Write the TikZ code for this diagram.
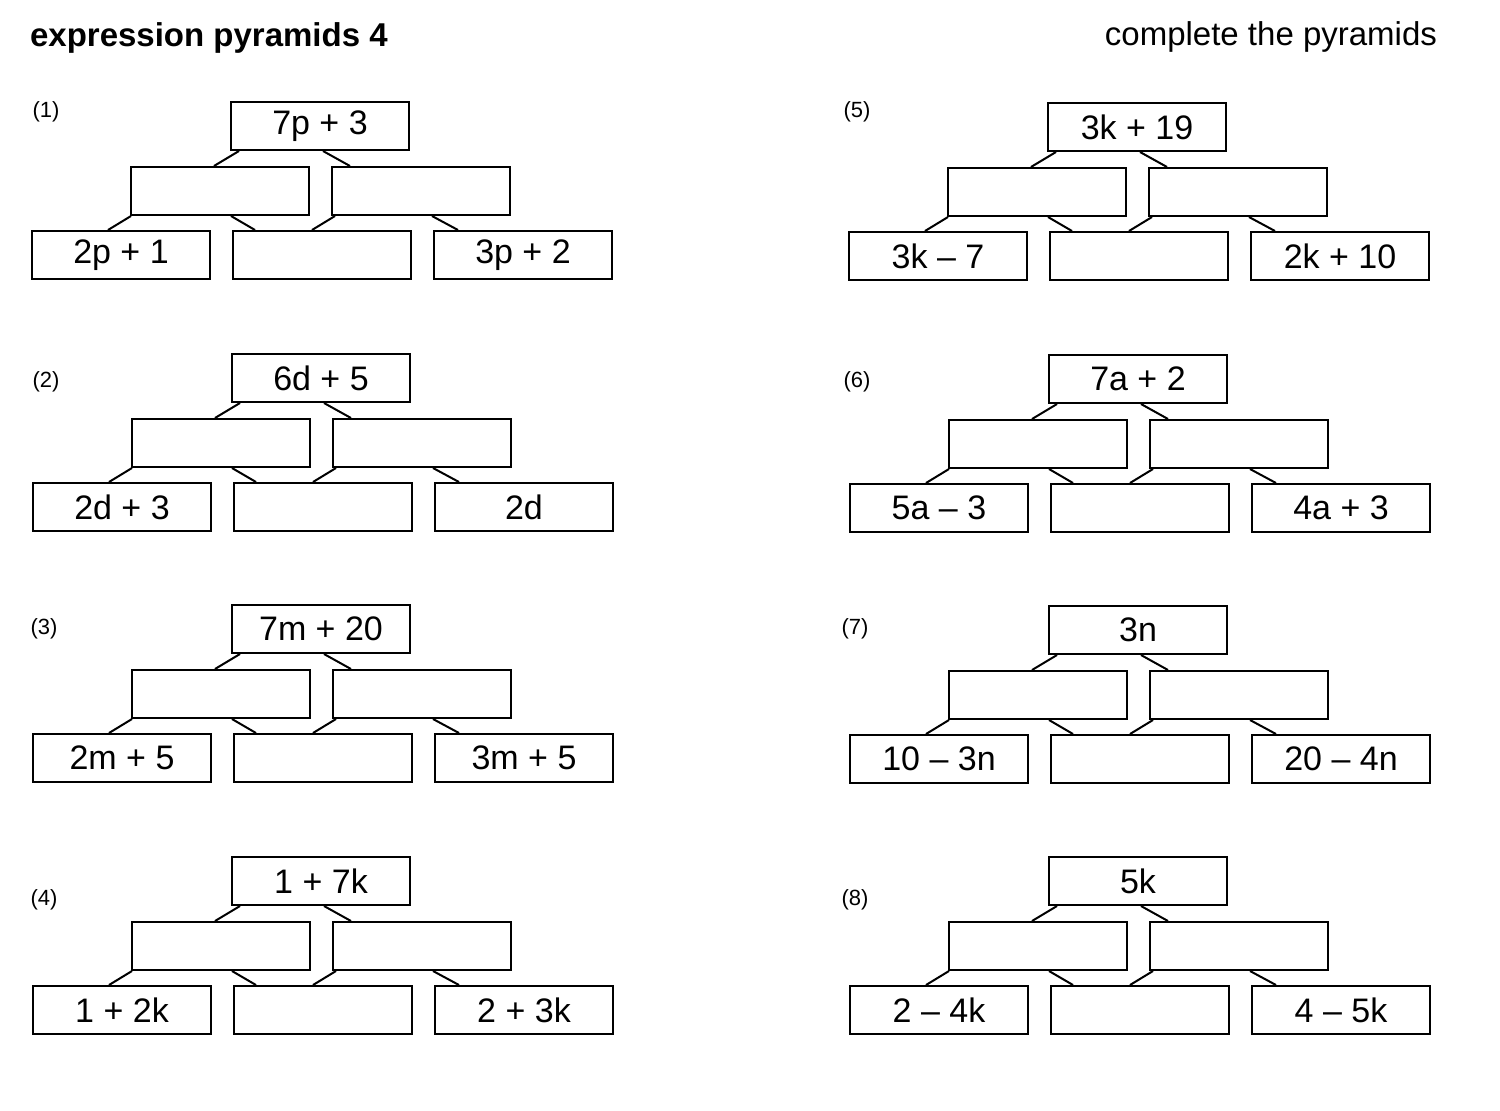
\documentclass[tikz,border=0pt]{standalone}
\usepackage{fontspec}
\setmainfont{Liberation Sans}
\usetikzlibrary{calc}
\tikzset{
  cell/.style={draw, line width=1pt, minimum width=89pt, minimum height=24pt, inner sep=0pt, font=\fontsize{17}{17}\selectfont},
  link/.style={line width=1pt},
  tag/.style={font=\fontsize{11}{11}\selectfont}
}
% #1 name, #2 x, #3 y (px of top box top-left), #4 top, #5 left, #6 right
\newcommand{\pyr}[6]{%
  \node[cell, anchor=north west] (#1t) at (#2pt,-#3pt) {#4};
  \node[cell, anchor=north west] (#1m) at ($(#1t.north west)+(-50pt,-32.5pt)$) {};
  \node[cell, anchor=north west] (#1n) at ($(#1m.north west)+(100.5pt,0)$) {};
  \node[cell, anchor=north west] (#1a) at ($(#1t.north west)+(-99.5pt,-64.5pt)$) {#5};
  \node[cell, anchor=north west] (#1b) at ($(#1a.north west)+(100.5pt,0)$) {};
  \node[cell, anchor=north west] (#1c) at ($(#1b.north west)+(100.5pt,0)$) {#6};
  \draw[link] ($(#1t.south)+(-40.5pt,0)$) -- ($(#1m.north)+(-3pt,0)$);
  \draw[link] ($(#1t.south)+(1.5pt,0)$) -- ($(#1n.north)+(-35.5pt,0)$);
  \draw[link] ($(#1m.south)+(-44.5pt,0)$) -- ($(#1a.north)+(-6.5pt,0)$);
  \draw[link] ($(#1m.south)+(5.5pt,0)$) -- ($(#1b.north)+(-33.5pt,0)$);
  \draw[link] ($(#1n.south)+(-43pt,0)$) -- ($(#1b.north)+(-5pt,0)$);
  \draw[link] ($(#1n.south)+(5.5pt,0)$) -- ($(#1c.north)+(-32.5pt,0)$);
}
\begin{document}
\begin{tikzpicture}
  \useasboundingbox (0,0) rectangle (750pt,-555pt);
  % headings
  \node[anchor=west, font=\fontsize{16.5}{16.5}\selectfont\bfseries] (title) at (11.5pt,-19pt) {expression pyramids 4};
  \node[anchor=east, font=\fontsize{16.5}{16.5}\selectfont] (task) at (722pt,-18.5pt) {complete the pyramids};
  % left column
  \node[tag] (l1) at (23pt,-56pt) {(1)};
  \pyr{p}{115}{50.5}{7p + 3}{2p + 1}{3p + 2}
  \node[tag] (l2) at (23pt,-191pt) {(2)};
  \pyr{d}{115.5}{176.5}{6d + 5}{2d + 3}{2d}
  \node[tag] (l3) at (22pt,-314.5pt) {(3)};
  \pyr{m}{115.5}{302}{7m + 20}{2m + 5}{3m + 5}
  \node[tag] (l4) at (22pt,-450pt) {(4)};
  \pyr{k}{115.5}{428}{1 + 7k}{1 + 2k}{2 + 3k}
  % right column
  \node[tag] (l5) at (428.5pt,-56pt) {(5)};
  \pyr{q}{523.5}{51}{3k + 19}{3k -- 7}{2k + 10}
  \node[tag] (l6) at (428.5pt,-191pt) {(6)};
  \pyr{a}{524}{177}{7a + 2}{5a -- 3}{4a + 3}
  \node[tag] (l7) at (427.5pt,-314.5pt) {(7)};
  \pyr{n}{524}{302.5}{3n}{10 -- 3n}{20 -- 4n}
  \node[tag] (l8) at (427.5pt,-450pt) {(8)};
  \pyr{f}{524}{428}{5k}{2 -- 4k}{4 -- 5k}
\end{tikzpicture}
\end{document}
